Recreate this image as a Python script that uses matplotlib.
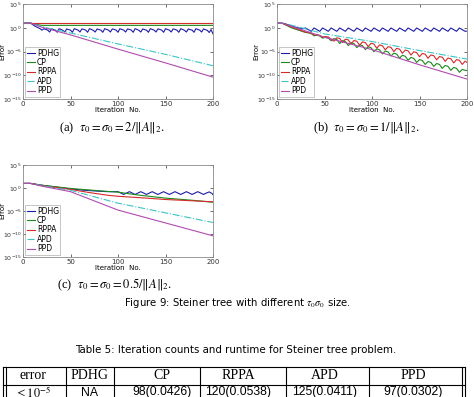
import numpy as np
import matplotlib
matplotlib.use("Agg")
import matplotlib.pyplot as plt

plt.rcParams['mathtext.fontset'] = 'stix'

# ---- data: log10(error) ----
methods = ['PDHG', 'CP', 'RPPA', 'APD', 'PPD']
colors = ['#1c1ca8', '#1a8a1a', '#d42a2a', '#3cc4c4', '#b04cb0']
styles = ['-', '-', '-', '-.', '-']

# panel (a) tau0 = sigma0 = 2/||A||
pdhg_a_it = list(range(0, 201, 2))
pdhg_a = [1.0, 1.0, 1.0, 1.0, 0.95, 0.7, 0.4, 0.2, 0.0, -0.2, -0.5,
          -0.2, -0.35, -0.5, -0.9, -0.25, -0.35, -0.5, -0.95, -0.2, -0.35, -0.55, -0.9,
          -0.25, -0.4, -0.5, -0.95, -0.2, -0.35, -0.5, -0.9,
          -0.25, -0.35, -0.5, -0.95, -0.2, -0.35, -0.55, -0.9, -0.25, -0.4, -0.5, -0.95,
          -0.2, -0.35, -0.5, -0.9, -0.25, -0.35, -0.5, -0.95,
          -0.2, -0.35, -0.5, -0.9, -0.25, -0.35, -0.5, -0.95, -0.2, -0.35, -0.55, -0.9,
          -0.25, -0.4, -0.5, -0.95, -0.2, -0.35, -0.5, -0.9, -0.25, -0.35, -0.5, -0.95,
          -0.2, -0.35, -0.5, -0.9, -0.25, -0.35, -0.5, -0.95, -0.2, -0.35, -0.55, -0.9,
          -0.25, -0.4, -0.5, -0.95,
          -0.2, -0.35, -0.5, -0.9, -0.25, -0.4, -0.55, -1.0, -0.4, -1.3]
cp_a_it = [0, 8, 14, 20, 200]
cp_a = [1.0, 1.0, 0.7, 0.5, 0.5]
rppa_a_it = [0, 200]
rppa_a = [1.0, 1.0]
apd_a_it = [0, 8, 20, 50, 100, 150, 200]
apd_a = [1.0, 1.0, 0.2, -1.1, -3.4, -5.6, -8.0]
ppd_a_it = [0, 8, 20, 50, 100, 150, 200]
ppd_a = [1.0, 1.0, 0.1, -1.5, -4.5, -7.4, -10.4]

# panel (b) tau0 = sigma0 = 1/||A||
osc_b_it = list(range(0, 199, 3)) + [200]
pdhg_b = [1.0, 1.0, 0.95, 0.8, 0.6, 0.4, 0.2, 0.05, -0.1, -0.2,
          -0.05, -0.4, -0.75, -0.05, -0.4, -0.75, -0.05, -0.4, -0.75, -0.05, -0.4, -0.75,
          -0.05, -0.4, -0.75, -0.05, -0.4, -0.75, -0.05, -0.4, -0.75, -0.05, -0.4, -0.75,
          -0.05, -0.4, -0.75, -0.05, -0.4, -0.75, -0.05, -0.4, -0.75, -0.05, -0.4, -0.75,
          -0.05, -0.4, -0.75, -0.05, -0.4, -0.75, -0.05, -0.4, -0.75, -0.05, -0.4, -0.75,
          -0.05, -0.4, -0.75, -0.05, -0.4, -0.75, -0.05, -0.4, -0.75, -0.7]
cp_b = [1.0, 0.95, 0.9, 0.6, 0.3, 0.0, -0.2, -0.4, -0.6, -0.8, -1.0,
        -1.07, -1.23, -1.70, -1.56, -1.73, -2.19, -2.0, -2.17, -2.74,
        -2.28, -2.47, -3.32, -2.71, -2.91, -3.75, -3.14, -3.34, -4.18,
        -3.58, -3.77, -4.61, -4.01, -4.20, -5.05, -4.45, -4.65, -5.5,
        -4.9, -5.1, -5.95, -5.35, -5.55, -6.4, -5.8, -6.0, -6.85,
        -6.25, -6.45, -7.3, -6.7, -6.89, -7.73, -7.11, -7.3, -8.14,
        -7.53, -7.72, -8.55, -7.94, -8.13, -8.97, -8.36, -8.54, -9.38,
        -8.77, -8.96, -9.0]
rppa_b = [1.0, 0.95, 0.9, 0.67, 0.43, 0.2, -0.02, -0.24, -0.46, -0.68, -0.9,
          -1.0, -1.15, -1.55, -1.45, -1.6, -2.0, -1.85, -1.95, -2.45,
          -2.82, -2.12, -2.26, -3.11, -2.4, -2.55, -3.4, -2.69, -2.84,
          -3.68, -2.98, -3.13, -3.97, -3.27, -3.43, -4.3, -3.62, -3.79,
          -4.66, -3.98, -4.15, -5.02, -4.34, -4.51, -5.38, -4.7, -4.87,
          -5.74, -5.06, -5.23, -6.1, -5.41, -5.57, -6.42, -5.73, -5.89,
          -6.75, -6.06, -6.21, -7.07, -6.38, -6.54, -7.4, -6.7, -6.86,
          -7.72, -7.03, -7.3]
apd_b_it = [0, 6, 20, 50, 100, 150, 200]
apd_b = [1.0, 0.95, 0.3, -1.3, -2.9, -4.8, -6.6]
ppd_b_it = [0, 6, 20, 50, 100, 150, 200]
ppd_b = [1.0, 0.95, 0.0, -2.0, -4.6, -7.8, -10.8]

# panel (c) tau0 = sigma0 = 0.5/||A||
pdhg_c_it = [0, 8, 20, 35, 50, 65, 80, 90] + list(range(100, 200, 3)) + [200]
pdhg_c = [1.0, 1.0, 0.6, 0.2, -0.2, -0.5, -0.7, -0.8,
          -0.8, -1.1, -1.4, -1.1, -0.8, -1.1, -1.4, -1.1, -0.8, -1.1, -1.4, -1.1,
          -0.8, -1.1, -1.4, -1.1, -0.8, -1.1, -1.4, -1.1, -0.8, -1.1, -1.4, -1.1,
          -0.8, -1.1, -1.4, -1.1, -0.8, -1.1, -1.4, -1.1, -0.85, -1.2, -1.45]
cp_c_it = [0, 8, 20, 50, 80, 100, 120, 150, 180, 200]
cp_c = [1.0, 1.0, 0.6, -0.1, -0.6, -0.9, -1.5, -2.2, -2.7, -3.1]
rppa_c_it = [0, 8, 20, 50, 70, 90, 100, 130, 150, 180, 200]
rppa_c = [1.0, 1.0, 0.5, -0.3, -1.0, -1.6, -1.8, -2.2, -2.5, -2.8, -3.0]
apd_c_it = [0, 8, 20, 50, 100, 150, 200]
apd_c = [1.0, 1.0, 0.5, -0.5, -3.3, -5.4, -7.5]
ppd_c_it = [0, 8, 20, 50, 100, 150, 200]
ppd_c = [1.0, 1.0, 0.4, -0.8, -4.8, -7.6, -10.4]

panels = [
    [(pdhg_a_it, pdhg_a), (cp_a_it, cp_a), (rppa_a_it, rppa_a), (apd_a_it, apd_a), (ppd_a_it, ppd_a)],
    [(osc_b_it, pdhg_b), (osc_b_it, cp_b), (osc_b_it, rppa_b), (apd_b_it, apd_b), (ppd_b_it, ppd_b)],
    [(pdhg_c_it, pdhg_c), (cp_c_it, cp_c), (rppa_c_it, rppa_c), (apd_c_it, apd_c), (ppd_c_it, ppd_c)],
]
captions = [r'(a)  $\tau_0 = \sigma_0 = 2/\|A\|_2$.',
            r'(b)  $\tau_0 = \sigma_0 = 1/\|A\|_2$.',
            r'(c)  $\tau_0 = \sigma_0 = 0.5/\|A\|_2$.']

table_header = ['error', 'PDHG', 'CP', 'RPPA', 'APD', 'PPD']
table_row = [r'$\leq 10^{-5}$', 'NA', '98(0.0426)', '120(0.0538)', '125(0.0411)', '97(0.0302)']

W, H = 474, 397
fig = plt.figure(figsize=(W / 100, H / 100), dpi=100)

# axes boxes in pixels: left, top, right, bottom
boxes = [(23, 4, 213, 99), (277, 4, 467, 99), (23, 165, 213, 257)]

for k, (l, t, r, b) in enumerate(boxes):
    ax = fig.add_axes([l / W, 1 - b / H, (r - l) / W, (b - t) / H])
    for (it, v), name, c, ls in zip(panels[k], methods, colors, styles):
        ax.semilogy(it, 10.0 ** np.array(v), ls, color=c, lw=0.8, label=name)
    ax.set_xlim(0, 200)
    ax.set_ylim(1e-15, 1e5)
    ax.set_xticks([0, 50, 100, 150, 200])
    ax.set_yticks([1e5, 1e0, 1e-5, 1e-10, 1e-15])
    ax.yaxis.set_minor_locator(matplotlib.ticker.NullLocator())
    ax.tick_params(labelsize=5, direction='in', length=2, width=0.5,
                   top=True, right=True, pad=1.2, colors='#333333')
    ax.tick_params(axis='y', labelsize=4.5, pad=1)
    for s in ax.spines.values():
        s.set_color('#8a8a8a')
        s.set_linewidth(0.6)
    ax.set_xlabel('Iteration  No.', fontsize=5, labelpad=0)
    ax.set_ylabel('Error', fontsize=5)
    ax.yaxis.set_label_coords(-18 / (r - l), 0.5)
    leg = ax.legend(loc='lower left', fontsize=5.5, handlelength=1.1, handletextpad=0.2,
                    labelspacing=0.05, borderpad=0.2, borderaxespad=0.3, fancybox=False)
    leg.get_frame().set_edgecolor('#999999')
    leg.get_frame().set_linewidth(0.5)

# overlay in pixel coordinates for captions and table
ov = fig.add_axes([0, 0, 1, 1])
ov.set_xlim(0, W)
ov.set_ylim(H, 0)
ov.axis('off')

ov.text(112, 128, captions[0], fontsize=9, family='Liberation Serif', ha='center', va='center')
ov.text(366, 128, captions[1], fontsize=9, family='Liberation Serif', ha='center', va='center')
ov.text(115, 285, captions[2], fontsize=9, family='Liberation Serif', ha='center', va='center')
ov.text(237, 303, r'Figure 9: Steiner tree with different $\tau_0\sigma_0$ size.',
        fontsize=7.3, family='DejaVu Sans', ha='center', va='center')
ov.text(236, 350, 'Table 5: Iteration counts and runtime for Steiner tree problem.',
        fontsize=7.4, family='DejaVu Sans', ha='center', va='center')

# table grid
col_lines = [3.3, 6, 65.7, 114, 200, 286, 369, 461.7, 465]
col_centers = [33, 90, 162, 238, 325, 413]
ov.plot([3.3, 465], [366.7, 366.7], color='black', lw=0.8)
ov.plot([3.3, 465], [385, 385], color='black', lw=0.8)
for xl in col_lines:
    ov.plot([xl, xl], [366.7, H], color='black', lw=0.8)
for xc, h, v in zip(col_centers, table_header, table_row):
    ov.text(xc, 375.5, h, fontsize=10, family='Liberation Serif', ha='center', va='center')
    fam = 'Liberation Serif' if v.startswith('$') else 'Liberation Sans'
    ov.text(xc, 392.5, v, fontsize=8.8, family=fam, ha='center', va='center')

fig.savefig('out.png', dpi=100)
